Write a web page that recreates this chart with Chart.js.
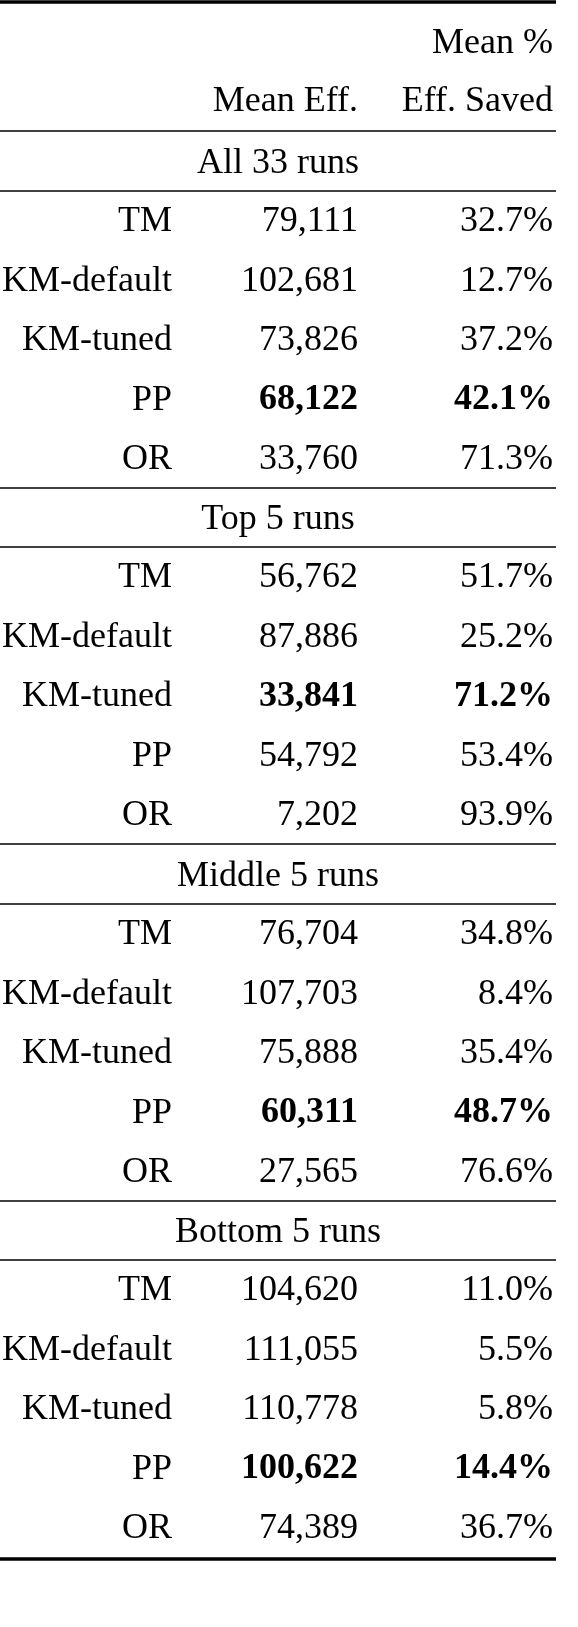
<!DOCTYPE html>
<html>
<head>
<meta charset="utf-8">
<script src="https://cdn.jsdelivr.net/npm/chart.js@4/dist/chart.umd.min.js"></script>
<style>
  html, body { margin: 0; padding: 0; background: #fff; }
  #wrap { width: 578px; height: 1627px; }
</style>
</head>
<body>
<div id="wrap"><canvas id="table"></canvas></div>
<script>
const groups = ['All 33 runs', 'Top 5 runs', 'Middle 5 runs', 'Bottom 5 runs'];
const methods = ['TM', 'KM-default', 'KM-tuned', 'PP', 'OR'];
const meanEff = [
  ['79,111', '102,681', '73,826', '68,122', '33,760'],
  ['56,762', '87,886', '33,841', '54,792', '7,202'],
  ['76,704', '107,703', '75,888', '60,311', '27,565'],
  ['104,620', '111,055', '110,778', '100,622', '74,389'],
];
const pctSaved = [
  ['32.7%', '12.7%', '37.2%', '42.1%', '71.3%'],
  ['51.7%', '25.2%', '71.2%', '53.4%', '93.9%'],
  ['34.8%', '8.4%', '35.4%', '48.7%', '76.6%'],
  ['11.0%', '5.5%', '5.8%', '14.4%', '36.7%'],
];
const bestIdx = [3, 2, 3, 3]; // bold row per group

const FONT = '"Liberation Serif", "Times New Roman", serif';

// layout: pixel-ish units mapped through chart scales
const colRight = [172, 358, 553];
const rowH = 59.4;
const groupStart = [191, 547, 904, 1260];

const tablePlugin = {
  id: 'tablePlugin',
  afterDraw(chart) {
    const ctx = chart.ctx;
    const xs = chart.scales.x, ys = chart.scales.y;
    const X = v => xs.getPixelForValue(v);
    const Y = v => ys.getPixelForValue(v);
    ctx.save();
    ctx.fillStyle = '#000';
    ctx.strokeStyle = '#000';
    ctx.textBaseline = 'middle';

    const hline = (y, w) => {
      ctx.lineWidth = w;
      ctx.beginPath();
      ctx.moveTo(X(0), Y(y));
      ctx.lineTo(X(556), Y(y));
      ctx.stroke();
    };
    const text = (s, x, y, align, bold) => {
      ctx.font = (bold ? 'bold ' : '') + '36px ' + FONT;
      ctx.textAlign = align;
      ctx.fillText(s, X(x), Y(y));
    };

    hline(2, 3.5);
    text('Mean %', colRight[2], 44, 'right');
    text('Mean Eff.', colRight[1], 102, 'right');
    text('Eff. Saved', colRight[2], 102, 'right');
    hline(131, 1.5);

    groups.forEach((g, gi) => {
      const top = groupStart[gi];
      text(g, 278, top - 27, 'center');
      hline(top, 1.5);
      methods.forEach((m, ri) => {
        const y = top + 31 + ri * rowH;
        const b = ri === bestIdx[gi];
        text(m, colRight[0], y, 'right');
        text(meanEff[gi][ri], colRight[1], y, 'right', b);
        text(pctSaved[gi][ri], colRight[2], y, 'right', b);
      });
      if (gi < groups.length - 1) hline(top + 297, 1.5);
    });
    hline(groupStart[3] + 299, 3.5);
    ctx.restore();
  }
};

new Chart(document.getElementById('table'), {
  type: 'scatter',
  data: { datasets: [{ data: [], pointRadius: 0 }] },
  options: {
    responsive: true,
    maintainAspectRatio: false,
    animation: false,
    layout: { padding: 0 },
    plugins: { legend: { display: false }, tooltip: { enabled: false } },
    scales: {
      x: { type: 'linear', min: 0, max: 578, display: false },
      y: { type: 'linear', min: 0, max: 1627, reverse: true, display: false }
    }
  },
  plugins: [tablePlugin]
});
</script>
</body>
</html>
